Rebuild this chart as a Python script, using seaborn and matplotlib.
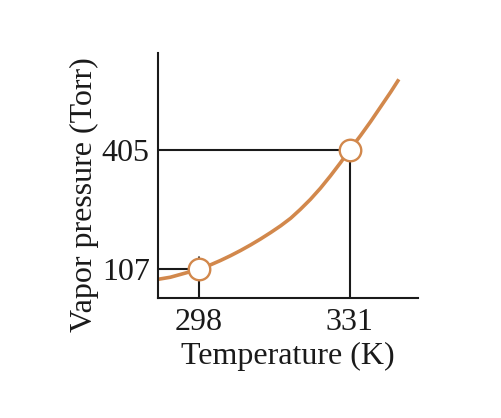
import matplotlib
matplotlib.use("Agg")
import matplotlib.pyplot as plt
import seaborn as sns
import pandas as pd

# curve
temps = [289.1, 291.7, 293.9, 296.1, 298.0, 300.5, 302.7, 304.9, 307.1, 309.3,
         311.5, 313.7, 315.9, 318.1, 320.2, 322.4, 324.6, 326.8, 329.0, 331.0,
         333.4, 335.6, 337.8, 340.0, 341.8]
pressures = [81, 86, 93, 100, 107, 117, 128, 140, 153, 167,
             182, 198, 215, 234, 256, 281, 309, 340, 373, 405,
             441, 476, 513, 550, 582]

# marked points
mark_t = [298, 331]
mark_p = [107, 405]

curve = pd.DataFrame({"T": temps, "P": pressures})
marks = pd.DataFrame({"T": mark_t, "P": mark_p})

sns.set_style("white")
plt.rcParams["font.family"] = ["Liberation Serif", "DejaVu Serif"]

orange = "#d2884c"
ink = "#1a1a1a"

fig = plt.figure(figsize=(5.02, 4.18), dpi=100)
ax = fig.add_axes([0.3147, 0.2871, 0.518, 0.5861])

x0, x1 = 289.0, 346.0
y0, y1 = 34.0, 648.0

# guide lines from the axes to the points
for t, p in zip(mark_t, mark_p):
    ax.plot([x0, t], [p, p], color=ink, lw=1.5, zorder=1)
    ax.plot([t, t], [y0, p], color=ink, lw=1.5, zorder=1)
# little stub above the first circle, as in the original
ax.plot([298, 298], [107, 137], color=ink, lw=1.2, zorder=1)

sns.lineplot(data=curve, x="T", y="P", ax=ax, color=orange, lw=2.6, zorder=2,
             sort=False, solid_capstyle="butt")
ax.plot(marks["T"], marks["P"], ls="none", marker="o", ms=15.5, mfc="white",
        mec=orange, mew=1.7, zorder=3)

ax.set_xlim(x0, x1)
ax.set_ylim(y0, y1)
ax.set_xticks(mark_t)
ax.set_yticks(mark_p)
ax.set_xticklabels([str(t) for t in mark_t])
ax.set_yticklabels([str(p) for p in mark_p])
ax.tick_params(length=0, labelsize=23, colors=ink)
ax.tick_params(axis="x", pad=7)
ax.tick_params(axis="y", pad=6)

for s in ["top", "right"]:
    ax.spines[s].set_visible(False)
for s in ["left", "bottom"]:
    ax.spines[s].set_color(ink)
    ax.spines[s].set_linewidth(1.5)

ax.set_xlabel("Temperature (K)", fontsize=23, color=ink)
ax.set_ylabel("Vapor pressure (Torr)", fontsize=23, color=ink)
ax.xaxis.set_label_coords(0.5, -0.18)
ax.yaxis.set_label_coords(-0.225, 0.42)

fig.savefig("out.png", dpi=100)
